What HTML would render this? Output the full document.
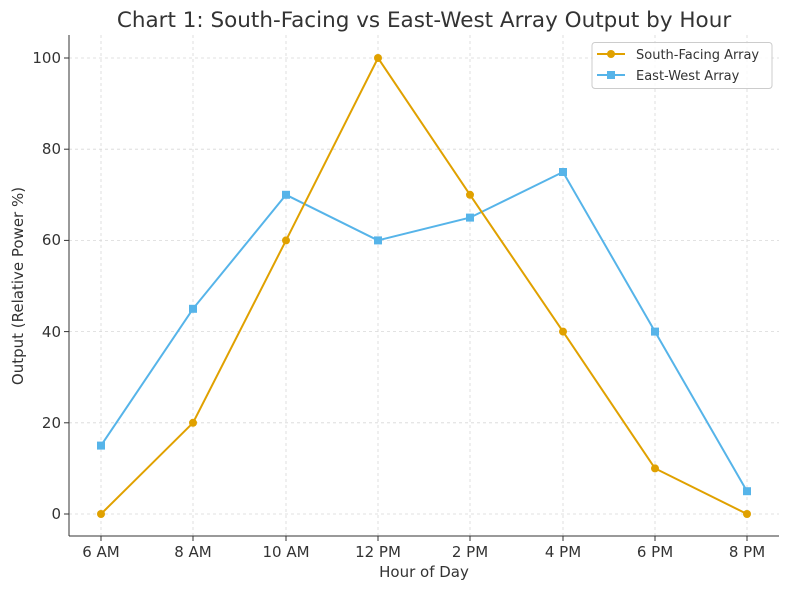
<!DOCTYPE html><html><head><style>body{margin:0;background:#fff}</style></head><body>
<svg width="790" height="590" xmlns="http://www.w3.org/2000/svg" font-family="DejaVu Sans, Liberation Sans, sans-serif">
<rect width="790" height="590" fill="#fff"/>
<text x="424" y="27" font-size="21.5" fill="#333" text-anchor="middle">Chart 1: South-Facing vs East-West Array Output by Hour</text>
<g stroke="#d8d8d8" stroke-dasharray="3,3" stroke-width="0.8">
<line x1="101" y1="35" x2="101" y2="536"/><line x1="193" y1="35" x2="193" y2="536"/><line x1="286" y1="35" x2="286" y2="536"/><line x1="378" y1="35" x2="378" y2="536"/><line x1="470" y1="35" x2="470" y2="536"/><line x1="563" y1="35" x2="563" y2="536"/><line x1="655" y1="35" x2="655" y2="536"/><line x1="747" y1="35" x2="747" y2="536"/>
<line x1="69" y1="514" x2="779" y2="514"/><line x1="69" y1="422.8" x2="779" y2="422.8"/><line x1="69" y1="331.6" x2="779" y2="331.6"/><line x1="69" y1="240.4" x2="779" y2="240.4"/><line x1="69" y1="149.2" x2="779" y2="149.2"/><line x1="69" y1="58" x2="779" y2="58"/>
</g>
<g stroke="#333" stroke-width="1"><line x1="69" y1="35" x2="69" y2="536"/><line x1="69" y1="536" x2="779" y2="536"/>
<line x1="64" y1="514" x2="69" y2="514"/><line x1="64" y1="422.8" x2="69" y2="422.8"/><line x1="64" y1="331.6" x2="69" y2="331.6"/><line x1="64" y1="240.4" x2="69" y2="240.4"/><line x1="64" y1="149.2" x2="69" y2="149.2"/><line x1="64" y1="58" x2="69" y2="58"/>
<line x1="101" y1="536" x2="101" y2="541"/><line x1="193" y1="536" x2="193" y2="541"/><line x1="286" y1="536" x2="286" y2="541"/><line x1="378" y1="536" x2="378" y2="541"/><line x1="470" y1="536" x2="470" y2="541"/><line x1="563" y1="536" x2="563" y2="541"/><line x1="655" y1="536" x2="655" y2="541"/><line x1="747" y1="536" x2="747" y2="541"/></g>
<g font-size="15" fill="#333" text-anchor="end"><text x="61" y="519">0</text><text x="61" y="428">20</text><text x="61" y="337">40</text><text x="61" y="245">60</text><text x="61" y="154">80</text><text x="61" y="63">100</text></g>
<g font-size="15" fill="#333" text-anchor="middle"><text x="101" y="557">6 AM</text><text x="193" y="557">8 AM</text><text x="286" y="557">10 AM</text><text x="378" y="557">12 PM</text><text x="470" y="557">2 PM</text><text x="563" y="557">4 PM</text><text x="655" y="557">6 PM</text><text x="747" y="557">8 PM</text></g>
<text x="424" y="577" font-size="15" fill="#333" text-anchor="middle">Hour of Day</text>
<text transform="translate(23,286) rotate(-90)" font-size="15" fill="#333" text-anchor="middle">Output (Relative Power %)</text>
<polyline fill="none" stroke="#56B4E9" stroke-width="2" points="101,445.6 193,308.8 286,194.8 378,240.4 470,217.6 563,172 655,331.6 747,491.2"/>
<g fill="#56B4E9"><rect x="97" y="441.6" width="8" height="8"/><rect x="189" y="304.8" width="8" height="8"/><rect x="282" y="190.8" width="8" height="8"/><rect x="374" y="236.4" width="8" height="8"/><rect x="466" y="213.6" width="8" height="8"/><rect x="559" y="168" width="8" height="8"/><rect x="651" y="327.6" width="8" height="8"/><rect x="743" y="487.2" width="8" height="8"/></g>
<polyline fill="none" stroke="#E0A100" stroke-width="2" points="101,514 193,422.8 286,240.4 378,58 470,194.8 563,331.6 655,468.4 747,514"/>
<g fill="#E0A100"><circle cx="101" cy="514" r="4"/><circle cx="193" cy="422.8" r="4"/><circle cx="286" cy="240.4" r="4"/><circle cx="378" cy="58" r="4"/><circle cx="470" cy="194.8" r="4"/><circle cx="563" cy="331.6" r="4"/><circle cx="655" cy="468.4" r="4"/><circle cx="747" cy="514" r="4"/></g>
<rect x="592" y="42.5" width="180" height="46" rx="3" fill="#fff" fill-opacity="0.85" stroke="#ccc"/>
<line x1="597" y1="54" x2="625" y2="54" stroke="#E0A100" stroke-width="2"/><circle cx="611" cy="54" r="4" fill="#E0A100"/>
<line x1="597" y1="75" x2="625" y2="75" stroke="#56B4E9" stroke-width="2"/><rect x="607" y="71" width="8" height="8" fill="#56B4E9"/>
<g font-size="13" fill="#333"><text x="636" y="59">South-Facing Array</text><text x="636" y="80">East-West Array</text></g>
</svg></body></html>
